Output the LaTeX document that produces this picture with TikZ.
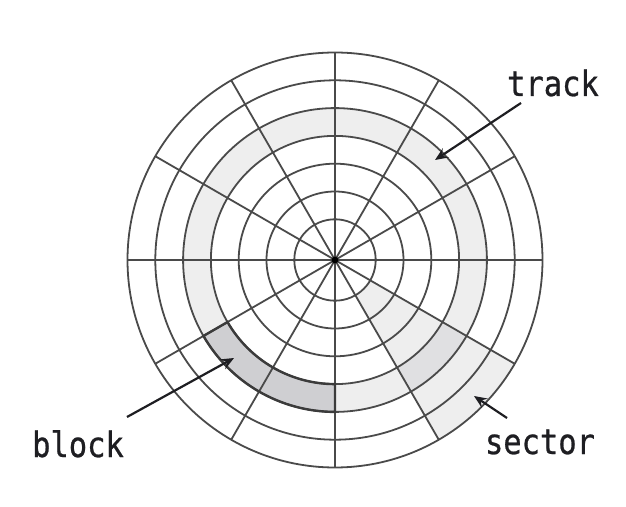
\documentclass[tikz,border=0pt]{standalone}
\usepackage{fontspec}
\newfontfamily\labfont[FakeStretch=0.87,FakeBold=0.7]{DejaVu Sans Mono}
\usetikzlibrary{arrows.meta}
\definecolor{gridc}{HTML}{4A4A4A}
\definecolor{trackc}{HTML}{EEEEEE}
\definecolor{overc}{HTML}{E0E0E2}
\definecolor{blockc}{HTML}{CFCFD2}
\definecolor{inkc}{HTML}{1E1E22}
\tikzset{
  gridline/.style={draw=gridc, line width=1.8pt},
  blockedge/.style={draw=gridc!80!black, line width=2.4pt},
  pointer/.style={draw=inkc, line width=2.2pt, -{Stealth[length=13pt,width=11pt,inset=5pt]}},
  label/.style={text=inkc, font=\labfont\fontsize{35}{40}\selectfont, anchor=base, inner sep=0pt},
}
\begin{document}
\begin{tikzpicture}[x=1pt,y=1pt]
\useasboundingbox (0,0) rectangle (626,506);
\fill[white] (0,0) rectangle (626,506);
\coordinate (C) at (335,246);
\def\rA{40.7}\def\rB{68.5}\def\rC{96.3}\def\rD{124.1}\def\rE{151.9}\def\rF{179.7}\def\rG{207.5}
\begin{scope}[shift={(C)}]
  % track ring
  \fill[trackc, even odd rule] (0,0) circle[radius=\rE] (0,0) circle[radius=\rD];
  % sector wedge
  \fill[trackc] (-60:\rA) arc[start angle=-60, end angle=-30, radius=\rA]
     -- (-30:\rG) arc[start angle=-30, end angle=-60, radius=\rG] -- cycle;
  \fill[overc] (-60:\rD) arc[start angle=-60, end angle=-30, radius=\rD]
     -- (-30:\rE) arc[start angle=-30, end angle=-60, radius=\rE] -- cycle;
  % block
  \fill[blockc] (210:\rD) arc[start angle=210, end angle=270, radius=\rD]
     -- (270:\rE) arc[start angle=270, end angle=210, radius=\rE] -- cycle;
  % circles
  \foreach \r in {\rA,\rB,\rC,\rD,\rE,\rF,\rG}
    \draw[gridline] (0,0) circle[radius=\r];
  % spokes
  \foreach \a in {0,30,...,330}
    \draw[gridline] (0,0) -- (\a:\rG);
  % block outline
  \draw[blockedge] (210:\rD) arc[start angle=210, end angle=270, radius=\rD]
     -- (270:\rE) arc[start angle=270, end angle=210, radius=\rE] -- cycle;
\end{scope}
\fill[black] (C) circle[radius=3.4];
% labels
\node[label] (track) at (553,410) {track};
\node[label] (block) at (78,49) {block};
\node[label] (sector) at (540,52) {sector};
% arrows
\coordinate (trackTail) at (521,403);
\coordinate (trackTip) at (435,346);
\coordinate (blockTail) at (127,89);
\coordinate (blockTip) at (234,148);
\coordinate (sectorTail) at (507,88);
\coordinate (sectorTip) at (474,110);
\draw[pointer] (trackTail) -- (trackTip);
\draw[pointer] (blockTail) -- (blockTip);
\draw[pointer] (sectorTail) -- (sectorTip);
\end{tikzpicture}
\end{document}
